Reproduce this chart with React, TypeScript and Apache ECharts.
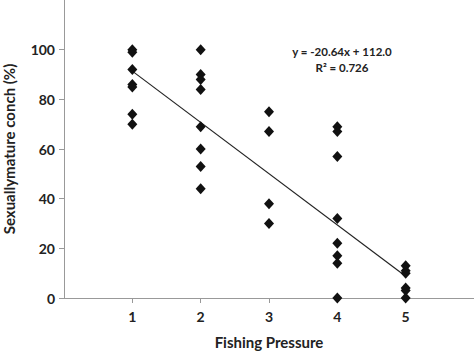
import React, { useEffect, useRef } from "react";
import * as echarts from "echarts";

const pressure1 = [100, 99, 92, 86, 85, 74, 70];
const pressure2 = [100, 90, 88, 84, 69, 60, 53, 44];
const pressure3 = [75, 67, 38, 30];
const pressure4 = [69, 67, 57, 32, 22, 17, 14, 0];
const pressure5 = [13, 11, 10, 4, 3, 0];
const groups = [pressure1, pressure2, pressure3, pressure4, pressure5];
const xTicks = [1, 2, 3, 4, 5];
const yTicks = [0, 20, 40, 60, 80, 100];
const slope = -20.64;
const intercept = 112.0;
const equation = "y = -20.64x + 112.0";
const rSquared = "R² = 0.726";

export default function App() {
  const ref = useRef<HTMLDivElement>(null);
  useEffect(() => {
    if (!ref.current) return;
    document.body.style.margin = "0";
    const chart = echarts.init(ref.current, undefined, { renderer: "svg" });
    const points: number[][] = [];
    groups.forEach((g, i) => g.forEach((v) => points.push([i + 1, v])));
    const fam = "Lato, 'Open Sans', sans-serif";
    chart.setOption({
      animation: false,
      grid: { left: 64, right: 0, top: 0, bottom: 55, containLabel: false, outerBoundsMode: "none" },
      xAxis: {
        type: "value",
        min: 0,
        max: 6,
        interval: 1,
        name: "Fishing Pressure",
        nameLocation: "middle",
        nameGap: 36,
        nameTextStyle: { fontSize: 15, fontWeight: "bold", color: "#222", fontFamily: fam },
        splitLine: { show: false },
        axisLine: { lineStyle: { color: "#999", width: 1 } },
        axisTick: { show: true, customValues: xTicks, length: 5, lineStyle: { color: "#999" } },
        axisLabel: { customValues: xTicks, fontSize: 14, fontWeight: "bold", color: "#222", margin: 11, fontFamily: fam },
      },
      yAxis: {
        type: "value",
        min: 0,
        max: 120,
        interval: 20,
        name: "Sexuallymature conch (%)",
        nameLocation: "middle",
        nameGap: 48,
        nameTextStyle: { fontSize: 15, fontWeight: "bold", color: "#222", fontFamily: fam },
        splitLine: { show: false },
        axisLine: { show: true, lineStyle: { color: "#999", width: 1 } },
        axisTick: { show: true, customValues: yTicks, length: 5, lineStyle: { color: "#999" } },
        axisLabel: { customValues: yTicks, fontSize: 14, fontWeight: "bold", color: "#222", margin: 9, fontFamily: fam },
      },
      series: [
        {
          type: "line",
          data: [
            [1, slope * 1 + intercept],
            [5, slope * 5 + intercept],
          ],
          symbol: "none",
          lineStyle: { color: "#222", width: 1.2 },
          z: 1,
        },
        {
          type: "scatter",
          data: points,
          symbol: "diamond",
          symbolSize: [10, 11],
          itemStyle: { color: "#111", opacity: 1 },
          z: 2,
        },
      ],
      graphic: [
        {
          type: "text",
          x: 342,
          y: 51,
          style: { text: equation, fontSize: 11.5, fontWeight: "bold", fill: "#222", align: "center", verticalAlign: "middle", fontFamily: fam },
        },
        {
          type: "text",
          x: 342,
          y: 67,
          style: { text: rSquared, fontSize: 11.5, fontWeight: "bold", fill: "#222", align: "center", verticalAlign: "middle", fontFamily: fam },
        },
      ],
    });
    return () => chart.dispose();
  }, []);
  return <div ref={ref} style={{ width: 474, height: 353, position: "absolute", left: 0, top: 0 }} />;
}
